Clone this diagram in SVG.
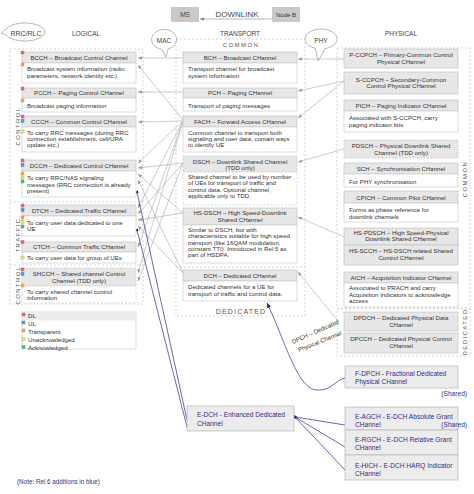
<svg xmlns="http://www.w3.org/2000/svg" width="474" height="494" viewBox="0 0 474 494">
<defs>
<style>
text{font-family:"Liberation Sans",Arial,sans-serif;fill:#333}
.t{font-size:6.1px}
.m{text-anchor:middle}
.h{fill:#e7e7e7;stroke:#c4c4c4;stroke-width:0.7}
.b{fill:#fff;stroke:#cdcdcd;stroke-width:0.7}
.d{stroke-dasharray:2,1.5}
.g{fill:none;stroke:#c4c4c4;stroke-width:0.7;stroke-dasharray:2,2}
.lbl{font-size:6.5px;fill:#444}
.vl{font-size:6px;fill:#555;letter-spacing:1.4px;text-anchor:middle}
.bt{font-size:6.6px;fill:#2f2f86}
.bx{fill:#ececec;stroke:#b5b5b5;stroke-width:0.7}
.ln{fill:none;stroke:#a9a9a9;stroke-width:0.6;marker-end:url(#ag)}
.bl{fill:none;stroke:#2b2b88;stroke-width:0.7}
.bld{marker-end:url(#bd)}
.cal{fill:#fff;stroke:#9a9a9a;stroke-width:0.7}
.dl{fill:#e86a84;stroke:#c24a63;stroke-width:0.4}
.ul{fill:#5a9bd5;stroke:#3b7bb5;stroke-width:0.4}
.tr{fill:#f2a94a;stroke:#d08a30;stroke-width:0.4}
.un{fill:#e4ee8a;stroke:#a8c030;stroke-width:0.5}
.ak{fill:#5cbf8a;stroke:#2f9a66;stroke-width:0.4}
</style>
<marker id="ag" viewBox="0 0 6 6" refX="6" refY="3" markerWidth="4" markerHeight="4" orient="auto" markerUnits="userSpaceOnUse"><path d="M0,0.5 L6,3 L0,5.5 z" fill="#999"/></marker>
<marker id="bd" viewBox="0 0 4 4" refX="2" refY="2" markerWidth="3" markerHeight="3" orient="auto" markerUnits="userSpaceOnUse"><circle cx="2" cy="2" r="2" fill="#1f1f88"/></marker>
<marker id="ab" viewBox="0 0 6 6" refX="6" refY="3" markerWidth="5" markerHeight="5" orient="auto" markerUnits="userSpaceOnUse"><path d="M0,0.5 L6,3 L0,5.5 z" fill="#1f1f88"/></marker>
<marker id="ak2" viewBox="0 0 6 6" refX="6" refY="3" markerWidth="4" markerHeight="4" orient="auto" markerUnits="userSpaceOnUse"><path d="M0,0.5 L6,3 L0,5.5 z" fill="#888"/></marker>
</defs>
<rect width="474" height="494" fill="#fff"/>

<!-- header -->
<g id="ms"><rect x="171" y="7" width="28" height="15" fill="#c9c9c9"/><text class="lbl m" x="185" y="17">MS</text></g>
<g id="nodeb"><rect x="272" y="7" width="28" height="15" fill="#c9c9c9"/><text class="m" x="286" y="17" style="font-size:6px">Node B</text></g>
<text x="237" y="17" class="m" style="font-size:8px;fill:#444">DOWNLINK</text>

<g id="callout-rrc"><path class="cal" d="M6.2,28.9 A20,9 0 1 1 6.2,35.1 L1,33.5 Z"/><text class="m" x="26" y="35.5" style="font-size:7px;fill:#444">RRC/RLC</text></g>
<g id="callout-mac"><path class="cal" d="M161.8,49.3 A12.5,10 0 1 1 168.3,48.9 L166,57 Z"/><text class="lbl m" x="164" y="43">MAC</text></g>
<g id="callout-phy"><path class="cal" d="M315.5,48.4 A16,10 0 1 1 325.1,48.7 L318,61 Z"/><text class="lbl m" x="321" y="43">PHY</text></g>
<text class="lbl m" x="86" y="35.5">LOGICAL</text>
<text class="lbl m" x="240" y="35.5">TRANSPORT</text>
<text class="lbl m" x="401" y="35.5">PHYSICAL</text>

<!-- group frames -->
<g id="frames">
<rect class="g" x="10" y="49" width="133" height="255"/>
<line class="g" x1="10" y1="202" x2="143" y2="202"/>
<line class="g" x1="10" y1="265" x2="143" y2="265"/>
<rect class="g" x="176" y="39" width="129" height="277"/>
<line class="g" x1="176" y1="267" x2="305" y2="267"/>
<rect class="g" x="337" y="48" width="133" height="260"/>
<rect class="g" x="337" y="309" width="133" height="47"/>
</g>
<text class="vl" transform="translate(19.5,126) rotate(-90)">CONTROL</text>
<text class="vl" transform="translate(19.5,235) rotate(-90)">TRAFFIC</text>
<text class="vl" transform="translate(19.5,285) rotate(-90)">CONTROL</text>
<text class="vl" x="241" y="47">COMMON</text>
<text class="vl" x="241" y="314" style="font-size:7px;letter-spacing:1.2px">DEDICATED</text>
<text class="vl" transform="translate(467,179) rotate(-90)">COMMON</text>
<text class="vl" transform="translate(467,332) rotate(-90)">DEDICATED</text>

<!-- connectors -->
<g id="connectors">
<path class="ln" d="M183,58 L138,58"/>
<path class="ln" d="M183,120 L138,65"/>
<path class="ln" d="M183,92 L138,92"/>
<path class="ln" d="M183,121 L138,122"/>
<path class="ln" d="M183,121 L138,163"/>
<path class="ln" d="M183,163 L138,168"/>
<path class="ln" d="M183,213 L138,174"/>
<path class="ln" d="M183,273 L138,180"/>
<path class="ln" d="M183,121 L138,208"/>
<path class="ln" d="M183,163 L138,214"/>
<path class="ln" d="M183,213 L138,220"/>
<path class="ln" d="M183,273 L138,226"/>
<path class="ln" d="M183,121 L138,247"/>
<path class="ln" d="M183,121 L138,273"/>
<path class="ln" d="M183,163 L138,281"/>
<path class="ln" d="M344,59 L298,59"/>
<path class="ln" d="M344,81 L298,91"/>
<path class="ln" d="M344,81 L298,118"/>
<path class="ln" d="M344,149 L298,162"/>
<path class="ln" d="M344,237 L298,217"/>
<path class="ln" d="M338,321 L298,272"/>
<path fill="none" stroke="#888" stroke-width="0.6" marker-end="url(#ak2)" d="M272,19 L200,19"/>
<path class="bl bld" d="M187,420 L137,192"/>
<path class="bl bld" d="M187,427 L137,230"/>
<path class="bl" marker-end="url(#ab)" d="M345,378 C336,380 330,391 318,390 C298,392 285,340 267,303"/>
<path class="bl bld" d="M345,425 L295,417"/>
<path class="bl bld" d="M345,447 L295,417"/>
<path class="bl bld" d="M345,470 L295,417"/>
</g>
<text class="t" transform="translate(293,344) rotate(-24)" style="font-size:6px">DPCH – Dedicated</text>
<text class="t" transform="translate(299,352) rotate(-22)" style="font-size:6px">Physical Channel</text>

<!-- logical -->
<g id="bcch"><rect class="h" x="22" y="52" width="114" height="11"/><rect class="b" x="22" y="63" width="114" height="20"/>
<text class="t m" x="79" y="59.5">BCCH – Broadcast Control Channel</text>
<text class="t" x="27" y="71">Broadcast system information (radio</text><text class="t" x="27" y="78">parameters, network identity etc.)</text>
<rect class="dl" x="21" y="51" width="3" height="3"/><rect class="tr" x="21" y="63" width="3" height="3"/></g>
<g id="pcch"><rect class="h" x="22" y="88" width="114" height="10"/><rect class="b" x="22" y="98" width="114" height="14"/>
<text class="t m" x="79" y="95">PCCH – Paging Control CHannel</text>
<text class="t" x="27" y="107.5">Broadcast paging information</text>
<rect class="dl" x="21" y="87" width="3" height="3"/><rect class="tr" x="21" y="99" width="3" height="3"/></g>
<g id="ccch"><rect class="h" x="22" y="116" width="114" height="11"/><rect class="b" x="22" y="127" width="114" height="25"/>
<text class="t m" x="79" y="123.5">CCCH – Common Control CHannel</text>
<text class="t" x="27" y="135">To carry RRC  messages (during RRC</text><text class="t" x="27" y="141">connection establishment, cell/URA</text><text class="t" x="27" y="147">update etc.)</text>
<rect class="dl" x="21" y="115" width="3" height="3"/><rect class="ul" x="21" y="119.5" width="3" height="3"/><rect class="un" x="21" y="130" width="3" height="3"/></g>
<g id="dcch"><rect class="h" x="22" y="160" width="114" height="11"/><rect class="b" x="22" y="171" width="114" height="26"/>
<text class="t m" x="79" y="167.5">DCCH – Dedicated Control CHannel</text>
<text class="t" x="27" y="180">To carry RRC/NAS  signaling</text><text class="t" x="27" y="186.5">messages (RRC connection is already</text><text class="t" x="27" y="193">present)</text>
<rect class="dl" x="21" y="159" width="3" height="3"/><rect class="ul" x="21" y="163.5" width="3" height="3"/><rect class="tr" x="21" y="172" width="3" height="3"/><rect class="un" x="21" y="176" width="3" height="3"/><rect class="ak" x="21" y="180" width="3" height="3"/></g>
<g id="dtch"><rect class="h" x="22" y="205" width="114" height="11"/><rect class="b" x="22" y="216" width="114" height="20"/>
<text class="t m" x="79" y="212.5">DTCH – Dedicated Traffic CHannel</text>
<text class="t" x="27" y="224.5">To carry user data dedicated to one</text><text class="t" x="27" y="231">UE</text>
<rect class="dl" x="21" y="204" width="3" height="3"/><rect class="ul" x="21" y="208.5" width="3" height="3"/><rect class="tr" x="21" y="216" width="3" height="3"/><rect class="un" x="21" y="220.5" width="3" height="3"/><rect class="ak" x="21" y="225" width="3" height="3"/></g>
<g id="ctch"><rect class="h" x="22" y="242" width="114" height="10"/><rect class="b" x="22" y="252" width="114" height="11"/>
<text class="t m" x="79" y="249.3">CTCH – Common Traffic CHannel</text>
<text class="t" x="27" y="260">To carry user data for group of UEs</text>
<rect class="dl" x="21" y="240.5" width="3" height="3"/><rect class="un" x="21" y="256" width="3" height="3"/></g>
<g id="shcch"><rect class="h d" x="22" y="268" width="114" height="18"/><rect class="b d" x="22" y="286" width="114" height="17"/>
<text class="t m" x="79" y="276">SHCCH – Shared channel Control</text><text class="t m" x="79" y="283">Channel (TDD only)</text>
<text class="t" x="27" y="293.5">To carry shared channel control</text><text class="t" x="27" y="299.5">information</text>
<rect class="dl" x="21" y="268" width="3" height="3"/><rect class="ul" x="21" y="272.5" width="3" height="3"/><rect class="tr" x="21" y="284" width="3" height="3"/></g>

<g id="legend"><rect class="b" x="22" y="312" width="114" height="37"/><rect x="22.4" y="312.4" width="113.2" height="8" fill="#ececec"/>
<rect class="dl" x="22" y="313" width="3" height="3"/><text class="t" x="28" y="317.5">DL</text>
<rect class="ul" x="22" y="321" width="3" height="3"/><text class="t" x="28" y="325.5">UL</text>
<rect class="tr" x="22" y="329" width="3" height="3"/><text class="t" x="28" y="333.5">Transparent</text>
<rect class="un" x="22" y="337.5" width="3" height="3"/><text class="t" x="28" y="342">Unacknowledged</text>
<rect class="ak" x="22" y="345.5" width="3" height="3"/><text class="t" x="28" y="350">Acknowledged</text></g>

<!-- transport -->
<g id="bch"><rect class="h" x="183" y="52" width="114" height="11"/><rect class="b" x="183" y="63" width="114" height="20"/>
<text class="t m" x="240" y="59.5">BCH – Broadcast CHannel</text>
<text class="t" x="188" y="71">Transport channel for broadcast</text><text class="t" x="188" y="78">system information</text></g>
<g id="pch"><rect class="h" x="183" y="88" width="114" height="10"/><rect class="b" x="183" y="98" width="114" height="13"/>
<text class="t m" x="240" y="95">PCH – Paging CHannel</text>
<text class="t" x="188" y="107.5">Transport of paging messages</text></g>
<g id="fach"><rect class="h" x="183" y="116" width="114" height="11"/><rect class="b" x="183" y="127" width="114" height="25"/>
<text class="t m" x="240" y="123.5">FACH – Forward Access CHannel</text>
<text class="t" x="188" y="135">Common channel to transport both</text><text class="t" x="188" y="141">signaling and user data, contain ways</text><text class="t" x="188" y="147">to identify UE</text></g>
<g id="dsch"><rect class="h d" x="183" y="156" width="114" height="16"/><rect class="b d" x="183" y="172" width="114" height="33"/>
<text class="t m" x="240" y="163.5">DSCH – Downlink Shared Channel</text><text class="t m" x="240" y="170">(TDD only)</text>
<text class="t" x="188" y="179">Shared channel to be used by number</text><text class="t" x="188" y="185.3">of UEs for transport of traffic and</text><text class="t" x="188" y="191.6">control data. Optional channel,</text><text class="t" x="188" y="198">applicable only to TDD.</text></g>
<g id="hsdsch"><rect class="h" x="183" y="208" width="114" height="17"/><rect class="b" x="183" y="225" width="114" height="38"/>
<text class="t m" x="240" y="215">HS-DSCH – High Speed-Downlink</text><text class="t m" x="240" y="222">Shared CHannel</text>
<text class="t" x="188" y="232">Similar to DSCH, but with</text><text class="t" x="188" y="238.3">characteristics suitable for high speed</text><text class="t" x="188" y="244.6">transport (like 16QAM modulation,</text><text class="t" x="188" y="250.9">constant TTI).  Introduced in Rel 5 as</text><text class="t" x="188" y="257.2">part of HSDPA.</text></g>
<g id="dch"><rect class="h" x="183" y="270" width="114" height="11"/><rect class="b" x="183" y="281" width="114" height="20"/>
<text class="t m" x="240" y="277.5">DCH – Dedicated CHannel</text>
<text class="t" x="188" y="289">Dedicated channels for a UE for</text><text class="t" x="188" y="295.5">transport of traffic and control data.</text></g>

<!-- physical -->
<g id="pccpch"><rect class="h" x="344" y="49" width="114" height="19"/>
<text class="t m" x="401" y="57">P-CCPCH – Primary-Common Control</text><text class="t m" x="401" y="64">Physical CHannel</text></g>
<g id="sccpch"><rect class="h" x="344" y="72" width="114" height="22"/>
<text class="t m" x="401" y="81.5">S-CCPCH – Secondary-Common</text><text class="t m" x="401" y="88">Control Physical CHannel</text></g>
<g id="pich"><rect class="h" x="344" y="100" width="114" height="11"/><rect class="b" x="344" y="111" width="114" height="21"/>
<text class="t m" x="401" y="107.5">PICH – Paging Indicator CHannel</text>
<text class="t" x="349" y="119.5">Associated with S-CCPCH, carry</text><text class="t" x="349" y="126.5">paging indicator bits</text></g>
<g id="pdsch"><rect class="h d" x="344" y="140" width="114" height="18"/>
<text class="t m" x="401" y="148">PDSCH – Physical Downlink Shared</text><text class="t m" x="401" y="154.5">Channel (TDD only)</text></g>
<g id="sch"><rect class="h" x="344" y="163" width="114" height="11"/><rect class="b" x="344" y="174" width="114" height="13"/>
<text class="t m" x="401" y="171">SCH – Synchronisation CHannel</text>
<text class="t" x="349" y="183.5">For PHY synchronisation</text></g>
<g id="cpich"><rect class="h" x="344" y="191" width="114" height="12"/><rect class="b" x="344" y="203" width="114" height="19"/>
<text class="t m" x="401" y="199.5">CPICH – Common Pilot CHannel</text>
<text class="t" x="349" y="211.5">Forms as phase reference for</text><text class="t" x="349" y="218.5">downlink channels</text></g>
<g id="hspdsch"><rect class="h" x="344" y="228" width="114" height="17"/>
<text class="t m" x="401" y="234.5">HS-PDSCH – High Speed-Physical</text><text class="t m" x="401" y="241">Downlink Shared CHannel</text></g>
<g id="hsscch"><rect class="h" x="344" y="245" width="114" height="20"/>
<text class="t m" x="401" y="253">HS-SCCH – HS-DSCH related Shared</text><text class="t m" x="401" y="259.5">Control CHannel</text></g>
<g id="aich"><rect class="h" x="344" y="272" width="114" height="11"/><rect class="b" x="344" y="283" width="114" height="24"/>
<text class="t m" x="401" y="279.5">AICH – Acquisition Indicator CHannel</text>
<text class="t" x="349" y="290">Associated to PRACH  and carry</text><text class="t" x="349" y="296.5">Acquisition Indicators to acknowledge</text><text class="t" x="349" y="303">access</text></g>
<g id="dpdch"><rect class="h" x="344" y="312" width="114" height="19"/>
<text class="t m" x="401" y="320">DPDCH – Dedicated Physical Data</text><text class="t m" x="401" y="327">CHannel</text></g>
<g id="dpcch"><rect class="h" x="344" y="333" width="114" height="20"/>
<text class="t m" x="401" y="340.5">DPCCH – Dedicated Physical Control</text><text class="t m" x="401" y="347.5">CHannel</text></g>

<!-- Rel 6 additions -->
<g id="fdpch"><rect class="bx" x="345" y="366" width="113" height="22"/>
<text class="bt" x="355" y="375.5">F-DPCH - Fractional Dedicated</text><text class="bt" x="355" y="384">Physical CHannel</text></g>
<text class="bt" x="467" y="395.5" text-anchor="end">(Shared)</text>
<g id="edch"><rect class="bx" x="187" y="406" width="107" height="25"/>
<text class="bt" x="197" y="417">E-DCH - Enhanced Dedicated</text><text class="bt" x="197" y="425.5">CHannel</text></g>
<g id="eagch"><rect class="bx" x="345" y="407" width="113" height="23"/>
<text class="bt" x="355" y="418.5">E-AGCH - E-DCH Absolute Grant</text><text class="bt" x="355" y="426.5">CHannel</text></g>
<text class="bt" x="467" y="426.5" text-anchor="end">(Shared)</text>
<g id="ergch"><rect class="bx" x="345" y="430" width="113" height="25"/>
<text class="bt" x="355" y="442">E-RGCH - E-DCH Relative Grant</text><text class="bt" x="355" y="450">CHannel</text></g>
<g id="ehich"><rect class="bx" x="345" y="455" width="113" height="25"/>
<text class="bt" x="355" y="467.5">E-HICH - E-DCH HARQ Indicator</text><text class="bt" x="355" y="475.5">CHannel</text></g>
<text class="bt" x="17" y="484" style="font-size:6.3px">(Note: Rel 6 additions in blue)</text>
</svg>
